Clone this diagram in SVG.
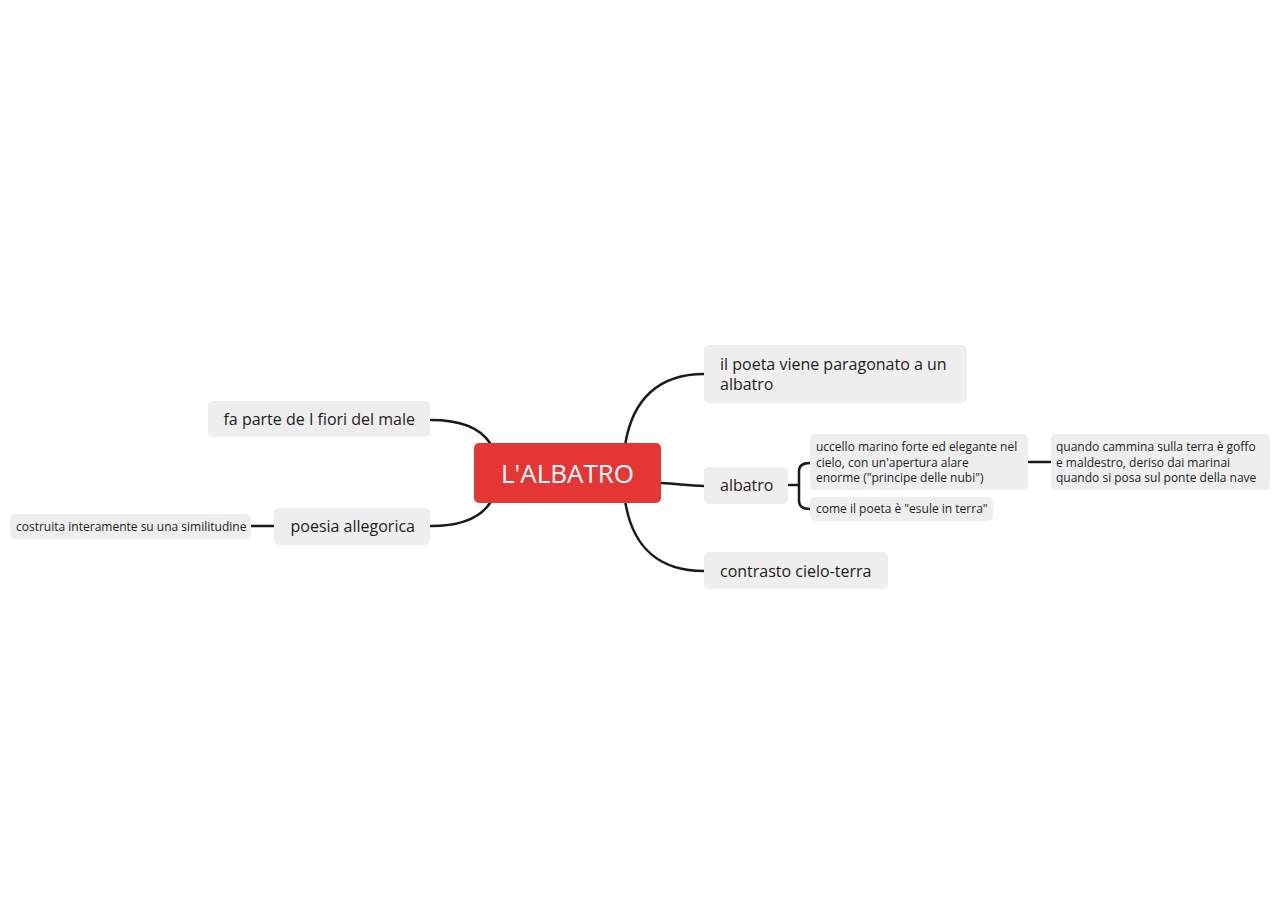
<svg xmlns="http://www.w3.org/2000/svg" width="1280" height="905" viewBox="0 0 1280 905">
<style>
.box{fill:#EEEEEE}
.t{font-family:"Open Sans","Noto Sans",sans-serif;font-size:16px;fill:#1c1c1c}
.s{font-family:"Open Sans","Noto Sans",sans-serif;font-size:12px;fill:#1c1c1c}
.c{fill:none;stroke:#1a1a1a;stroke-width:2.5;stroke-linecap:round}
</style>
<rect width="1280" height="905" fill="#FFFFFF"/>
<g id="connectors">
<path class="c" d="M625,446 C632,398 660,374 704,374"/>
<path class="c" d="M661,483 C680,484 688,486 704,486"/>
<path class="c" d="M625,500 C632,548 660,571 704,571"/>
<path class="c" d="M490,443 C480,428 460,420 431,420"/>
<path class="c" d="M490,503 C480,518 460,526 431,526"/>
<path class="c" d="M252,526 L273,526"/>
<path class="c" d="M789,485 L799,485"/>
<path class="c" d="M810,463 C803,463 799,465 799,471 L799,501 C799,507 803,509 810,509"/>
<path class="c" d="M1029,462 L1050,462"/>
</g>
<g id="central">
<rect x="474" y="443" width="187" height="60" rx="5" fill="#E53636"/>
<text x="567.5" y="482.5" text-anchor="middle" font-family="Open Sans, Noto Sans, sans-serif" font-size="26" fill="#FFFFFF">L'ALBATRO</text>
</g>
<g id="node-poeta">
<rect class="box" x="704" y="345" width="263" height="58" rx="5"/>
<text class="t" x="720" y="369.5">il poeta viene paragonato a un</text>
<text class="t" x="720" y="389.5">albatro</text>
</g>
<g id="node-albatro">
<rect class="box" x="704" y="467" width="84" height="37" rx="5"/>
<text class="t" x="720" y="491">albatro</text>
</g>
<g id="node-contrasto">
<rect class="box" x="704" y="552" width="184" height="37" rx="5"/>
<text class="t" x="720" y="576.5">contrasto cielo-terra</text>
</g>
<g id="node-fiori">
<rect class="box" x="208" y="401" width="222" height="36" rx="5"/>
<text class="t" x="415" y="424.5" text-anchor="end">fa parte de I fiori del male</text>
</g>
<g id="node-poesia">
<rect class="box" x="274" y="508" width="156" height="37" rx="5"/>
<text class="t" x="415" y="532" text-anchor="end">poesia allegorica</text>
</g>
<g id="node-costruita">
<rect class="box" x="10" y="514" width="241" height="25" rx="5"/>
<text class="s" x="16" y="530.5" font-size="11.8">costruita interamente su una similitudine</text>
</g>
<g id="node-uccello">
<rect class="box" x="810" y="434" width="218" height="56" rx="5"/>
<text class="s" x="816" y="451">uccello marino forte ed elegante nel</text>
<text class="s" x="816" y="466.5">cielo, con un'apertura alare</text>
<text class="s" x="816" y="482">enorme ("principe delle nubi")</text>
</g>
<g id="node-come">
<rect class="box" x="810" y="497" width="183" height="24" rx="5"/>
<text class="s" x="816" y="513">come il poeta è "esule in terra"</text>
</g>
<g id="node-quando">
<rect class="box" x="1051" y="434" width="219" height="56" rx="5"/>
<text class="s" x="1056" y="451">quando cammina sulla terra è goffo</text>
<text class="s" x="1056" y="466.5">e maldestro, deriso dai marinai</text>
<text class="s" x="1056" y="482">quando si posa sul ponte della nave</text>
</g>
</svg>
